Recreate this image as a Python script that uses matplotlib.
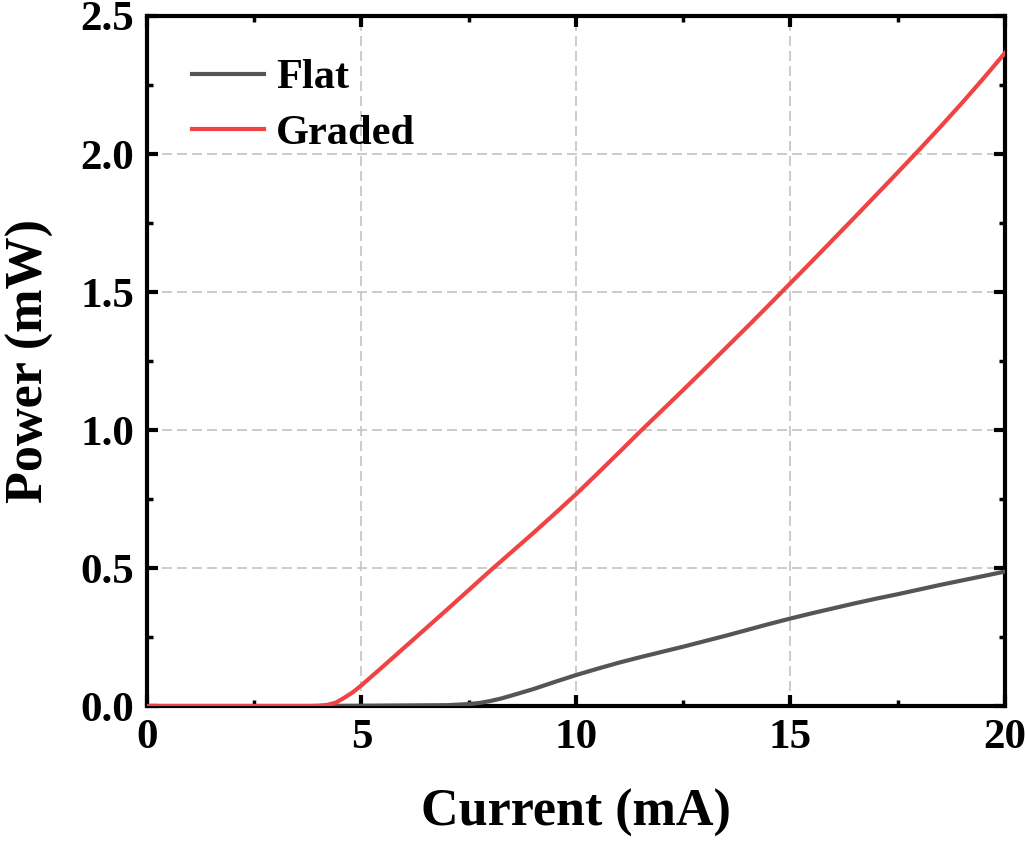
import matplotlib
matplotlib.use("Agg")
import matplotlib.pyplot as plt
from matplotlib.ticker import MultipleLocator

# Light-current curves
current_flat = [0.0, 2.0, 4.0, 5.0, 6.0, 7.0, 7.5, 7.75, 8.0, 8.25, 8.5, 9.0,
                9.5, 10.0, 10.5, 11.0, 11.5, 12.0, 12.5, 13.0, 13.5, 14.0,
                14.5, 15.0, 15.5, 16.0, 16.5, 17.0, 17.5, 18.0, 18.5, 19.0,
                19.5, 20.0]
flat = [0.0, 0.0, 0.0, 0.001, 0.002, 0.003, 0.007, 0.011, 0.018, 0.027, 0.038,
        0.061, 0.087, 0.112, 0.135, 0.157, 0.177, 0.196, 0.215, 0.235, 0.255,
        0.276, 0.297, 0.317, 0.336, 0.354, 0.372, 0.389, 0.405, 0.422, 0.439,
        0.455, 0.471, 0.487]

current_graded = [0.0, 2.0, 3.8, 4.0, 4.2, 4.4, 4.6, 4.8, 5.0, 5.5, 6.0, 6.5,
                  7.0, 7.5, 8.0, 8.5, 9.0, 9.5, 10.0, 10.5, 11.0, 11.5, 12.0,
                  12.5, 13.0, 13.5, 14.0, 14.5, 15.0, 15.5, 16.0, 16.5, 17.0,
                  17.5, 18.0, 18.5, 19.0, 19.5, 20.0]
graded = [0.0, 0.0, 0.0, 0.001, 0.004, 0.012, 0.03, 0.05, 0.075, 0.143, 0.212,
          0.281, 0.35, 0.42, 0.49, 0.558, 0.626, 0.696, 0.767, 0.842, 0.918,
          0.995, 1.07, 1.145, 1.221, 1.298, 1.375, 1.453, 1.532, 1.611, 1.691,
          1.771, 1.852, 1.933, 2.015, 2.099, 2.185, 2.274, 2.366]

plt.rcParams['font.family'] = ['Liberation Serif', 'DejaVu Serif']
plt.rcParams['font.weight'] = 'bold'

fig = plt.figure(figsize=(10.25, 8.42), dpi=100)
ax = fig.add_axes([0.1434, 0.1615, 0.837, 0.8195])

ax.plot(current_flat, flat, color='#555555', lw=3, label='Flat', zorder=3)
ax.plot(current_graded, graded, color='#f04343', lw=3, label='Graded', zorder=3)

ax.set_xlim(0, 20)
ax.set_ylim(0, 2.5)
ax.xaxis.set_major_locator(MultipleLocator(5))
ax.xaxis.set_minor_locator(MultipleLocator(2.5))
ax.yaxis.set_major_locator(MultipleLocator(0.5))
ax.yaxis.set_minor_locator(MultipleLocator(0.25))
ax.yaxis.set_major_formatter(plt.FormatStrFormatter('%.1f'))

ax.tick_params(which='both', direction='in', top=True, right=True,
               labelsize=31, pad=9)
ax.tick_params(which='major', length=8, width=3)
ax.tick_params(which='minor', length=4, width=2.5)
for s in ax.spines.values():
    s.set_linewidth(3)

ax.grid(True, which='major', color='#c4c4c4', linestyle=(0, (6, 3)), lw=1.2)

ax.set_xlabel('Current (mA)', fontsize=37.5, fontweight='bold', labelpad=23)
ax.set_ylabel('Power (mW)', fontsize=37.5, fontweight='bold', labelpad=19)

ax.legend(loc='upper left', bbox_to_anchor=(0.0524, 0.938), frameon=False,
          borderpad=0, borderaxespad=0, handlelength=1.7, handletextpad=0.28,
          labelspacing=0.39, prop={'weight': 'bold', 'size': 30.5})

fig.savefig('out.png', dpi=100)
